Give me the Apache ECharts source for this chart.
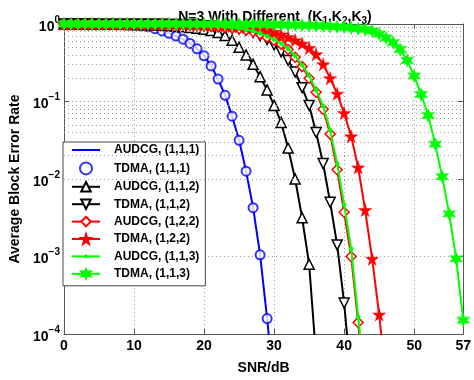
<!DOCTYPE html>
<html><head><meta charset="utf-8">
<script src="https://cdn.jsdelivr.net/npm/echarts@6/dist/echarts.min.js"></script>
<style>html,body{margin:0;padding:0;background:#fff}#c{width:474px;height:380px}</style>
</head><body><div id="c"></div>
<script>
var snr = [0,1,2,3,4,5,6,7,8,9,10,11,12,13,14,15,16,17,18,19,20,21,22,23,24,25,26,27,28,29,30,31,32,33,34,35,36,37,38,39,40,41,42,43,44,45,46,47,48,49,50,51,52,53,54,55,56,57];
var xTicks = [0,10,20,30,40,50,57];
var legendNames = ['AUDCG, (1,1,1)','TDMA, (1,1,1)','AUDCG, (1,1,2)','TDMA, (1,1,2)','AUDCG, (1,2,2)','TDMA, (1,2,2)','AUDCG, (1,1,3)','TDMA, (1,1,3)'];
var bler111 = [0.995,0.995,0.993,0.993,0.991,0.989,0.986,0.982,0.977,0.970,0.962,0.944,0.923,0.871,0.813,0.759,0.700,0.638,0.562,0.479,0.389,0.288,0.195,0.120,0.0646,0.0316,0.0126,0.00427,0.00105,0.000158,0.00002];
var audcg112 = [0.998,0.998,0.998,0.995,0.995,0.995,0.993,0.993,0.991,0.989,0.986,0.982,0.977,0.970,0.962,0.951,0.938,0.923,0.902,0.881,0.855,0.822,0.776,0.708,0.617,0.501,0.398,0.302,0.209,0.141,0.0891,0.0537,0.0251,0.01,0.00316,0.000794,0.00005];
var tdma112 = [0.998,0.998,0.998,0.998,0.998,0.995,0.995,0.995,0.995,0.993,0.993,0.991,0.991,0.989,0.989,0.986,0.982,0.977,0.970,0.962,0.951,0.938,0.923,0.906,0.887,0.867,0.832,0.776,0.708,0.631,0.537,0.437,0.339,0.240,0.151,0.0891,0.0398,0.0158,0.00501,0.00141,0.000251,0.000025];
var audcg122 = [0.998,0.998,0.998,0.998,0.998,0.998,0.995,0.995,0.995,0.993,0.993,0.991,0.991,0.989,0.989,0.986,0.982,0.977,0.970,0.962,0.951,0.940,0.927,0.912,0.891,0.867,0.835,0.794,0.741,0.676,0.617,0.550,0.468,0.372,0.282,0.200,0.132,0.0794,0.0380,0.0132,0.00372,0.001,0.000141,0.000016];
var tdma122 = [0.998,0.998,0.998,0.998,0.998,0.998,0.998,0.995,0.995,0.995,0.995,0.993,0.993,0.993,0.991,0.991,0.989,0.986,0.984,0.982,0.977,0.970,0.964,0.955,0.944,0.933,0.918,0.900,0.875,0.841,0.794,0.733,0.676,0.617,0.556,0.490,0.407,0.302,0.200,0.126,0.0708,0.0355,0.0141,0.00398,0.000933,0.000178,0.000025];
var audcg113 = [0.998,0.998,0.998,0.998,0.998,0.998,0.995,0.995,0.995,0.993,0.993,0.991,0.991,0.989,0.989,0.986,0.984,0.979,0.972,0.966,0.955,0.944,0.933,0.918,0.900,0.877,0.847,0.809,0.759,0.695,0.631,0.562,0.479,0.389,0.295,0.214,0.141,0.0871,0.0427,0.0158,0.00468,0.00126,0.000166,0.000025];
var tdma113 = [0.999,0.999,0.999,0.999,0.999,0.999,0.999,0.999,0.999,0.999,0.998,0.998,0.998,0.998,0.998,0.998,0.998,0.998,0.998,0.998,0.996,0.996,0.996,0.996,0.996,0.993,0.993,0.993,0.993,0.993,0.982,0.977,0.973,0.968,0.962,0.955,0.948,0.940,0.931,0.920,0.908,0.891,0.871,0.847,0.813,0.741,0.661,0.575,0.468,0.339,0.214,0.123,0.0661,0.0282,0.0107,0.00355,0.000933,0.000151];

function pairs(v){ return v.map(function(y,i){ return [snr[i], y]; }); }
var FONT = 'Liberation Sans, Arial, Helvetica, sans-serif';
var STAR5 = 'path://M50,0 L61,35 L98,35 L68,57 L79,91 L50,70 L21,91 L32,57 L2,35 L39,35 Z';
var STAR6 = 'path://M50,0 L62,29 L93,25 L74,50 L93,75 L62,71 L50,100 L38,71 L7,75 L26,50 L7,25 L38,29 Z';
var DOT = 'path://M0,0 M100,100 M42,30 L58,30 L70,42 L70,58 L58,70 L42,70 L30,58 L30,42 Z';
var RING = 'path://M0,0 M100,100 M50,15 A35,35 0 1,1 49.9,15 Z';

var minorLines = [];
[1e-4,1e-3,1e-2,1e-1].forEach(function(d){ for (var k=2;k<=9;k++) minorLines.push({yAxis: +(k*d).toPrecision(3)}); });

var gridLine = {show:true, lineStyle:{color:'#a0a0a0', type:[1,3], width:1}};
var legendData = legendNames.map(function(n,i){ return i===0 ? {name:n, itemStyle:{opacity:0}} : {name:n}; });
var chart = echarts.init(document.getElementById('c'));
chart.setOption({
  animation:false,
  backgroundColor:'#fff',
  title:{
    text:'N=3 With Different  (K{s|1},K{s|2},K{s|3})',
    left:270, top:4, textAlign:'center',
    textStyle:{fontFamily:FONT, fontSize:14, fontWeight:'bold', color:'#000',
      rich:{s:{fontFamily:FONT, fontSize:10, fontWeight:'bold', color:'#000', padding:[7,0,0,0]}}}
  },
  grid:{left:59, right:7, top:24, bottom:37},
  legend:{
    orient:'vertical', left:63, top:142,
    backgroundColor:'#fff', borderColor:'#444', borderWidth:1, borderRadius:0,
    padding:[2,6,6,8], itemWidth:28, itemHeight:12, itemGap:5.4,
    data:legendData,
    textStyle:{fontFamily:FONT, fontSize:12, fontWeight:'bold', color:'#000', padding:[0,0,0,9]}
  },
  xAxis:[{
    type:'value', min:0, max:57, interval:10,
    name:'SNR/dB', nameLocation:'middle', nameGap:27,
    nameTextStyle:{fontFamily:FONT, fontSize:14, fontWeight:'bold', color:'#000'},
    axisLine:{show:true, onZero:false, lineStyle:{color:'#555'}},
    axisTick:{show:true, inside:true, length:5, lineStyle:{color:'#555'}},
    axisLabel:{fontFamily:FONT, fontSize:14, fontWeight:'bold', color:'#000', margin:5,
      formatter:function(v){ return xTicks.indexOf(v) >= 0 ? String(v) : ''; }},
    splitLine:gridLine
  },{
    type:'value', position:'top', min:0, max:57, interval:10,
    axisLine:{show:true, onZero:false, lineStyle:{color:'#555'}},
    axisTick:{show:true, inside:true, length:5, lineStyle:{color:'#555'}},
    axisLabel:{show:false}, splitLine:{show:false}
  }],
  yAxis:[{
    type:'log', logBase:10, min:1e-4, max:1,
    name:'Average Block Error Rate', nameLocation:'middle', nameGap:42,
    nameTextStyle:{fontFamily:FONT, fontSize:14, fontWeight:'bold', color:'#000'},
    axisLine:{show:true, onZero:false, lineStyle:{color:'#555'}},
    axisTick:{show:true, inside:true, length:5, lineStyle:{color:'#555'}},
    axisLabel:{fontFamily:FONT, fontSize:14, fontWeight:'bold', color:'#000', margin:4,
      formatter:function(v){ var e = Math.round(Math.log10(v)); return '{b|10}{s|' + (e===0?'0':'\u2212'+(-e)) + '}'; },
      rich:{b:{fontFamily:FONT, fontSize:14, fontWeight:'bold', color:'#000', padding:[6,0,0,0]},
            s:{fontFamily:FONT, fontSize:10, fontWeight:'bold', color:'#000', padding:[0,0,8,0]}}},
    splitLine:gridLine
  },{
    type:'log', logBase:10, min:1e-4, max:1, position:'right',
    axisLine:{show:true, onZero:false, lineStyle:{color:'#555'}},
    axisTick:{show:true, inside:true, length:5, lineStyle:{color:'#555'}},
    axisLabel:{show:false}, splitLine:{show:false}
  }],
  series:[
    {name:legendNames[0], type:'line', data:pairs(bler111), showSymbol:false, symbol:'none',
      lineStyle:{color:'#0000ff', width:2}, itemStyle:{color:'#0000ff'}, z:2,
      markLine:{silent:true, symbol:'none', label:{show:false}, animation:false,
        lineStyle:{color:'#a0a0a0', type:[1,3], width:1}, data:minorLines}},
    {name:legendNames[1], type:'scatter', data:pairs(bler111), symbol:'emptyCircle', symbolSize:9,
      itemStyle:{color:'#0000ff', borderColor:'#0000ff', borderWidth:2}, z:3},
    {name:legendNames[2], type:'line', data:pairs(audcg112), symbol:'triangle', symbolSize:10,
      lineStyle:{color:'#000', width:2}, itemStyle:{color:'#fff', borderColor:'#000', borderWidth:1.5}, z:4},
    {name:legendNames[3], type:'line', data:pairs(tdma112), symbol:'triangle', symbolRotate:180, symbolSize:10,
      lineStyle:{color:'#000', width:2}, itemStyle:{color:'#fff', borderColor:'#000', borderWidth:1.5}, z:5},
    {name:legendNames[4], type:'line', data:pairs(audcg122), symbol:'diamond', symbolSize:10,
      lineStyle:{color:'#ff0000', width:2}, itemStyle:{color:'#fff', borderColor:'#ff0000', borderWidth:1.5}, z:6},
    {name:legendNames[5], type:'line', data:pairs(tdma122), symbol:STAR5, symbolSize:13,
      lineStyle:{color:'#ff0000', width:2}, itemStyle:{color:'#ff0000', borderColor:'#ff0000', borderWidth:0.5}, z:7},
    {name:legendNames[6], type:'line', data:pairs(audcg113), symbol:DOT, symbolSize:11,
      lineStyle:{color:'#00ff00', width:2}, itemStyle:{color:'#00ff00'}, z:8},
    {name:legendNames[7], type:'line', data:pairs(tdma113), symbol:STAR6, symbolSize:13,
      lineStyle:{color:'#00ff00', width:2}, itemStyle:{color:'#00ff00', borderColor:'#00ff00', borderWidth:0.5}, z:9}
  ]
});
</script></body></html>
